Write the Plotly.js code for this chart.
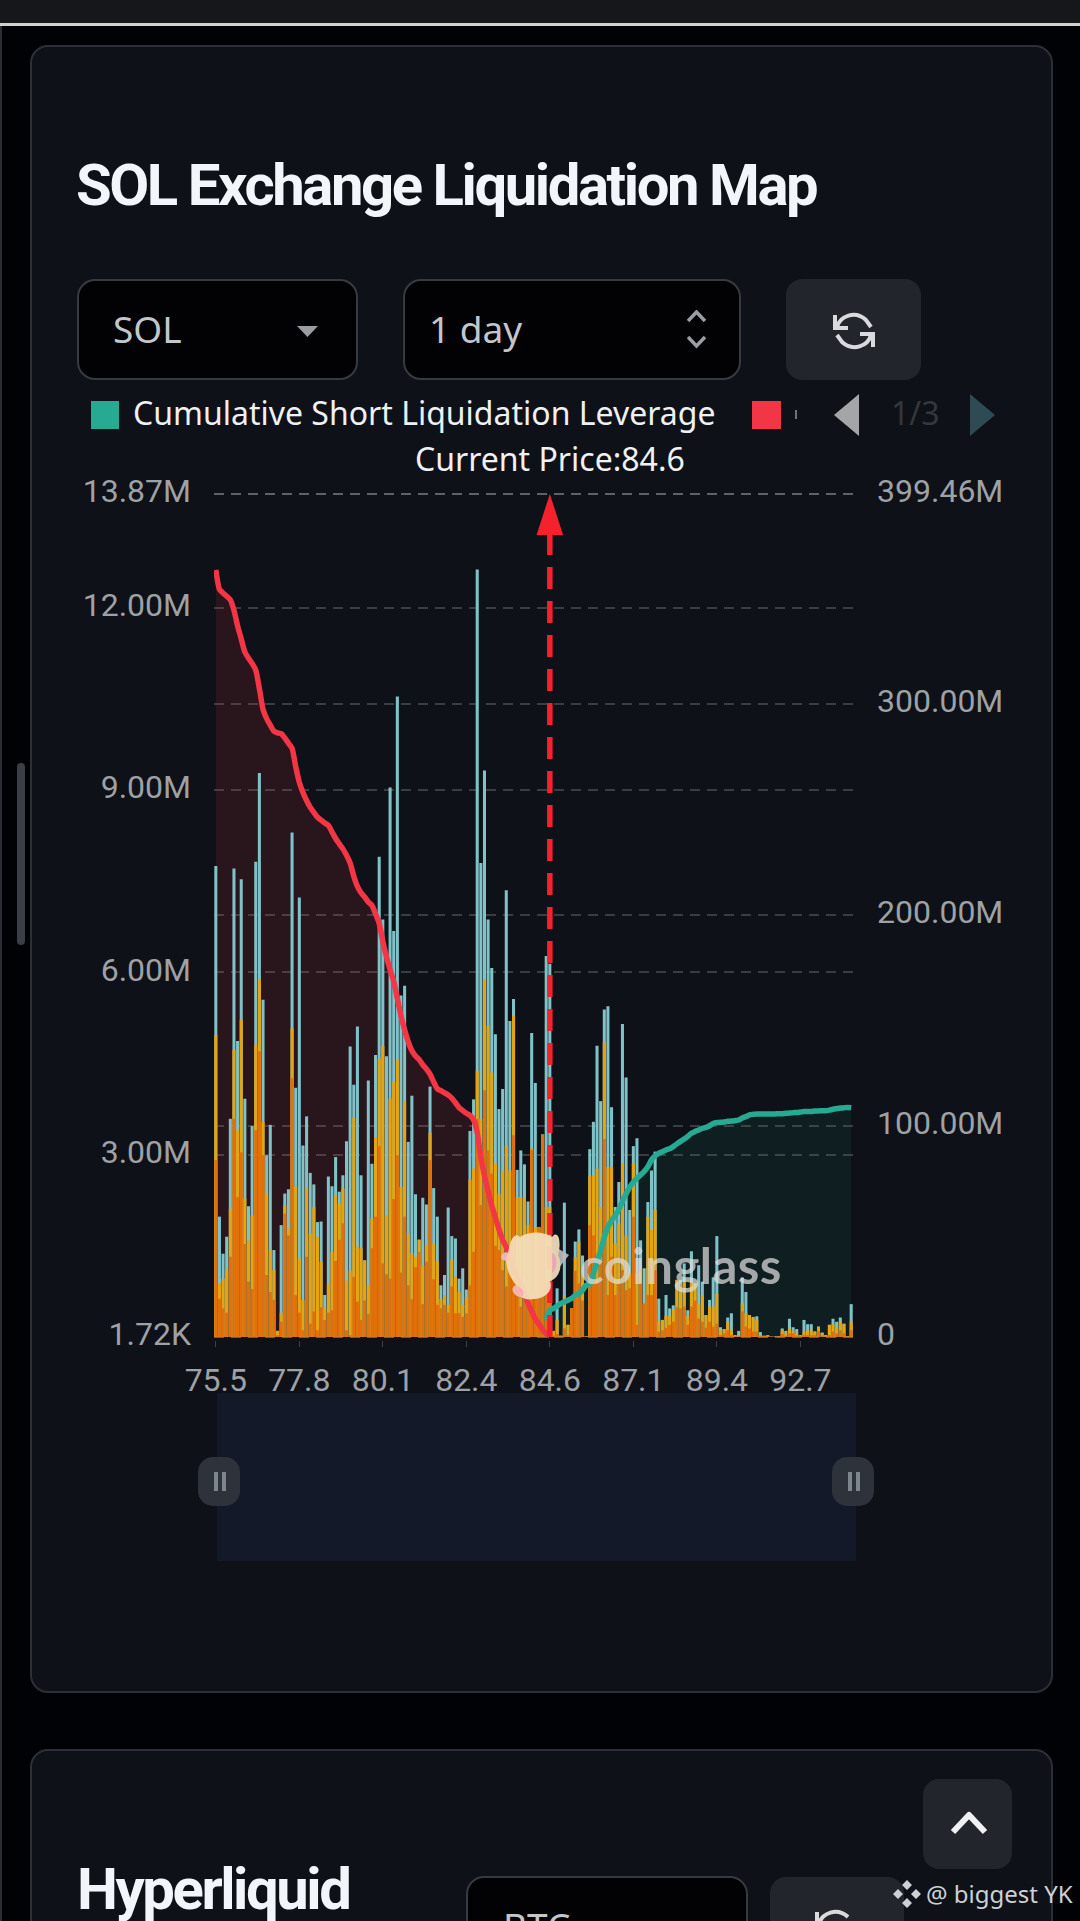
<!DOCTYPE html>
<html>
<head>
<meta charset="utf-8">
<script src="https://cdn.plot.ly/plotly-3.0.1.min.js"></script>
<style>
  html, body { margin: 0; padding: 0; background: #010205; }
  #page { position: relative; width: 1080px; height: 1921px; overflow: hidden; font-family: "Noto Sans", sans-serif; }
  #page div, #page svg { position: absolute; }
  .panel { background: #0e1117; border: 2px solid #2b3038; border-radius: 18px; box-sizing: border-box; }
  .box { background: #020204; border: 2px solid #363a42; border-radius: 18px; box-sizing: border-box; }
  .btn { background: #22252b; border-radius: 16px; }
  .head { font-family: Roboto, sans-serif; font-weight: 700; font-size: 58px; letter-spacing: -2.43px; color: #f2f5fa; white-space: nowrap; line-height: 68px; }
  .label { color: #c3c7cc; font-size: 37px; line-height: 40px; white-space: nowrap; }
  .handle { background: #2e323a; border-radius: 15px; }
  .handle i { position: absolute; top: 15px; width: 3.5px; height: 19px; background: #7f858c; }
  #chart { left: 0; top: 0; width: 1080px; height: 1921px; }
</style>
</head>
<body>
<div id="page">
  <div style="left:0;top:0;width:1080px;height:23px;background:#16171b"></div>
  <div style="left:0;top:23px;width:1080px;height:3px;background:#cfcfd0"></div>
  <div style="left:0;top:26px;width:2px;height:1895px;background:#2a2d33"></div>
  <div style="left:17px;top:763px;width:8px;height:182px;background:#3a3f46;border-radius:4px"></div>

  <div class="panel" style="left:30px;top:45px;width:1023px;height:1648px"></div>
  <div class="panel" style="left:30px;top:1749px;width:1023px;height:220px"></div>

  <div class="head" style="left:76px;top:151px">SOL Exchange Liquidation Map</div>

  <div class="box" style="left:77px;top:279px;width:281px;height:101px"></div>
  <div class="label" style="left:113px;top:309px">SOL</div>
  <svg style="left:297px;top:326px" width="22" height="12"><path d="M0 0H21L10.5 11Z" fill="#9a9da2"/></svg>

  <div class="box" style="left:403px;top:279px;width:338px;height:101px"></div>
  <div class="label" style="left:429px;top:309px">1 day</div>
  <svg style="left:687px;top:310px" width="20" height="40"><path d="M1 11L9.5 2L18 11M1 27L9.5 36L18 27" fill="none" stroke="#9a9da2" stroke-width="3.5"/></svg>

  <div class="btn" style="left:786px;top:279px;width:135px;height:101px"></div>
  <svg style="left:830px;top:307px" width="48" height="48" fill="none" stroke="#d8dade" stroke-width="4">
    <path d="M7 20C10 9 25 3 36 13L41 20"/><path d="M5 8V21H18" /><path d="M41 28C38 39 23 45 12 35L7 28"/><path d="M43 40V27H30"/>
  </svg>

  <div style="left:91px;top:401px;width:28px;height:28px;background:#26ab92"></div>
  <div class="label" id="legendText" style="left:133px;top:391px;color:#eef0f3;font-size:32px;line-height:44px">Cumulative Short Liquidation Leverage</div>
  <div style="left:752px;top:401px;width:29px;height:28px;background:#f23645"></div>
  <div style="left:795px;top:410px;width:2px;height:9px;background:#6f7378"></div>
  <svg style="left:834px;top:394px" width="26" height="42"><path d="M25 0V42L0 21Z" fill="#a3a5a8"/></svg>
  <div class="label" style="left:891px;top:391px;color:#34373c;font-size:32px;line-height:44px">1/3</div>
  <svg style="left:970px;top:394px" width="26" height="42"><path d="M0 0V42L25 21Z" fill="#2e4a53"/></svg>

  <div id="chart"></div>

  <svg style="left:498px;top:1225px;opacity:0.92" width="72" height="82">
    <path d="M8 27C1 29 2 36 9 36L14 30Z" fill="#f6b9bd"/>
    <path d="M54 20L71 30L60 44Z" fill="#b9bcbf"/>
    <path d="M10 28C12 16 16 6 22 12C30 6 46 6 54 12C60 4 64 16 60 30C66 42 60 54 52 56C56 66 46 74 36 74C28 76 16 72 18 60C10 50 6 38 10 28Z" fill="#f6dfbd"/>
    <path d="M18 60C12 62 14 70 22 72C26 72 26 68 24 64ZM54 28C60 30 60 44 54 48Z" fill="#f6b9bd"/>
  </svg>
  <div style="left:580px;top:1236px;font-family:Lato,sans-serif;font-weight:700;font-size:49px;line-height:58px;color:rgba(222,222,222,0.72);letter-spacing:0.5px">coinglass</div>

  <div style="left:217px;top:1393px;width:639px;height:168px;background:#131929"></div>
  <div class="handle" style="left:198px;top:1457px;width:42px;height:49px"><i style="left:16px"></i><i style="left:24px"></i></div>
  <div class="handle" style="left:832px;top:1457px;width:42px;height:49px"><i style="left:16px"></i><i style="left:24px"></i></div>

  <div class="head" style="left:77px;top:1855px">Hyperliquid</div>
  <div class="box" style="left:466px;top:1876px;width:282px;height:100px"></div>
  <div class="label" style="left:503px;top:1906px">BTC</div>
  <div class="btn" style="left:770px;top:1877px;width:134px;height:100px"></div>
  <svg style="left:812px;top:1904px" width="48" height="20" fill="none" stroke="#d8dade" stroke-width="4"><path d="M7 20C10 9 25 3 36 13"/><path d="M5 8V21H18"/></svg>
  <div class="btn" style="left:923px;top:1779px;width:89px;height:90px"></div>
  <svg style="left:950px;top:1810px" width="38" height="26"><path d="M3 22L19 5L35 22" fill="none" stroke="#f0f1f3" stroke-width="6" stroke-linejoin="round"/></svg>

  <svg style="left:893px;top:1880px" width="28" height="28" fill="#cdd0d4">
    <path d="M14 0L19 5L14 10L9 5ZM5 9L10 14L5 19L0 14ZM23 9L28 14L23 19L18 14ZM14 18L19 23L14 28L9 23Z"/>
  </svg>
  <div style="left:926px;top:1876px;color:#cdd0d4;font-size:24px;line-height:36px;white-space:nowrap">@ biggest YK</div>
</div>

<script>
// prices on the axis, one label every 23 bars
var tickIndex = [0, 23, 46, 69, 92, 115, 138, 161];
var tickLabels = ["75.5", "77.8", "80.1", "82.4", "84.6", "87.1", "89.4", "92.7"];
var currentIndex = 92;
var currentPrice = "84.6";

// top of each coloured part of a bar, in millions (left axis)
var orangeTops = [
  2.91, .63, .47, .40, 1.32, 3.59, 2.30, 3.04, 1.53, .91,
  .79, 3.40, 4.70, 2.99, 1.02, .74, .61, .03, .25, 2.03,
  1.67, 4.26, .69, .40, .11, 1.32, .22, .42, .11, .49,
  .28, .40, .44, 1.25, 1.60, 1.87, .11, .03, .99, .58,
  .28, .60, .38, 1.46, 1.98, 3.14, 1.21, 1.03, .96, 2.27,
  2.99, 1.06, 1.98, .85, .62, 1.15, 1.40, .54, 1.24, 2.91,
  .95, .53, .47, .53, .40, .83, .39, .39, .33, .39,
  .85, 1.40, 3.59, 2.17, 4.06, 3.07, 2.69, 1.50, 1.43, 1.10,
  .83, 1.32, 3.32, .83, .50, .61, .72, 3.08, .72, 1.81,
  3.33, .83, .61, .02, .05, .01, .14, .03, .47, 1.09,
  .88, .60, .01, 1.84, 1.67, .88, 1.26, 3.26, .69, 1.32,
  .69, .88, 1.10, .77, .80, 1.98, .20, .88, .55, .69,
  .69, 1.10, .09, .11, .15, .20, .25, .49, .47, .50,
  .20, .50, .60, .30, .25, .15, .25, .17, .22, .03,
  .06, .11, .03, .01, .01, .42, .17, .14, .09, .09,
  .01, .01, .01, .005, .005, .01, .05, .02, .06, .06,
  .02, .02, .03, .03, .03, .03, .10, .02, .01, .03,
  .09, .06, .11, .06, .01, .11
];
var yellowTops = [
  4.97, .88, .96, 1.10, 2.11, 4.72, 3.40, 5.22, 2.28, 1.59,
  2.00, 4.81, 5.89, 3.54, 2.36, 1.44, 1.10, .10, .40, 2.17,
  1.78, 5.08, 2.48, 1.29, .61, 2.47, 1.70, 2.14, 1.65, 1.24,
  .47, .88, 1.40, 2.32, 2.19, 2.44, .93, 1.09, 3.61, 1.49,
  1.46, 1.26, .85, 1.95, 3.29, 4.58, 4.79, 2.00, 3.92, 4.20,
  4.56, 2.47, 3.88, 1.70, 1.38, 1.32, 1.60, 1.17, 1.51, 3.36,
  1.53, 1.25, .62, .69, .53, 1.28, .99, .74, .53, .66,
  2.59, 2.77, 4.38, 3.59, 5.89, 5.12, 4.35, 2.85, 2.36, 2.74,
  3.15, 2.74, 5.28, 2.30, 2.30, 2.30, 1.84, 3.10, 1.81, 1.81,
  3.33, 2.14, 2.14, .10, .28, .02, .69, .20, .47, 1.31,
  1.57, 1.00, .01, 2.66, 2.66, 2.77, 2.14, 4.85, 2.80, 2.80,
  1.54, 1.87, 2.86, 1.67, 1.05, 2.86, 1.05, 1.13, .55, 1.98,
  1.76, 2.09, .25, .28, .35, .35, .45, .94, .85, .90,
  .35, .90, .88, .55, .69, .36, .50, .50, .71, .11,
  .13, .25, .11, .03, .03, .56, .39, .36, .31, .28,
  .03, .02, .02, .005, .005, .01, .11, .07, .14, .10,
  .05, .03, .09, .11, .11, .09, .17, .07, .03, .20,
  .21, .16, .25, .21, .01, .26
];
var tealTops = [
  7.75, 1.98, 1.37, 1.65, 3.59, 7.71, 4.87, 7.53, 3.92, 2.15,
  3.47, 7.82, 9.28, 5.55, 2.99, 3.49, 1.43, .10, 1.84, 2.36,
  2.43, 8.30, 4.10, 7.23, 3.15, 3.63, 2.70, 2.51, 1.89, 1.90,
  .69, 2.64, 2.48, 2.96, 2.39, 2.66, 3.22, 4.78, 4.15, 5.11,
  2.66, 1.26, 4.22, 2.85, 4.64, 7.90, 6.87, 4.62, 9.04, 6.68,
  10.54, 5.62, 5.78, 3.21, 3.97, 2.35, 1.60, 2.29, 2.18, 4.12,
  2.45, 1.98, .85, 1.02, 2.13, 1.66, 1.62, .96, 1.13, .78,
  3.39, 3.91, 12.63, 7.80, 9.32, 6.87, 6.07, 4.98, 3.75, 4.08,
  7.35, 5.20, 5.56, 2.75, 3.07, 2.84, 2.23, 5.00, 4.18, 1.81,
  3.33, 6.27, 6.14, .10, .80, .02, 2.21, .20, .47, 1.57,
  1.77, 1.34, .01, 3.09, 3.54, 4.79, 3.88, 5.39, 5.44, 3.78,
  2.14, 2.55, 5.15, 4.27, 2.09, 3.14, 3.27, 1.59, 1.13, 2.22,
  2.74, 3.05, .63, .28, .69, .47, .52, .94, .94, 1.21,
  .44, 1.41, .88, 1.18, .91, .36, .61, .98, 1.66, .16,
  .13, .32, .39, .03, .10, .98, .74, .36, .33, .34,
  .08, .02, .03, .005, .005, .01, .14, .10, .30, .16,
  .13, .03, .28, .21, .21, .09, .17, .07, .03, .20,
  .30, .25, .32, .22, .01, .54
];

// cumulative lines, in millions (right axis). Long side ends at the current price, short side starts there
var longLine = [
  363.5, 354.3, 352.5, 351, 349.3, 344.4, 337, 330.8, 324.6, 321.7,
  319.2, 316, 307.3, 297.5, 293, 290, 287.1, 286.3, 285.9, 283.9,
  281.4, 279, 270.3, 262.9, 258, 254.2, 251, 248.6, 246.3, 244.9,
  243.6, 242.4, 239.4, 236.2, 233.7, 231.3, 228.3, 224.6, 218.4, 213.5,
  210.5, 208.5, 206.1, 204.5, 200.5, 196, 187.5, 180.1, 174, 168.5,
  160.4, 152.2, 145.6, 139.9, 135.7, 133.2, 131.5, 129, 127, 124.6,
  120.9, 117.6, 116.7, 115.7, 114.7, 113.2, 111, 108.7, 107.3, 106,
  105, 102.8, 96.9, 85, 76.4, 69, 62.3, 56.6, 51, 46,
  42.6, 37.6, 32.7, 28.2, 24.5, 20.3, 15.9, 12.2, 8.5, 6,
  3.5, 1.5, 0.5
];
var shortStart = 91;
var shortLine = [
  7.9, 12.7, 13.5, 14.6, 15.8, 16.6, 17.4, 18.2, 19.8, 20.6,
  22.1, 24.5, 25, 30, 35.5, 41, 47.3, 52.1, 55.2, 57.6,
  60.3, 64.4, 67.8, 71, 73.3, 75.2, 76.8, 78.5, 80.7, 83.9,
  85.9, 87, 87.8, 88.6, 89.2, 90.2, 91.5, 92.7, 93.8, 95.1,
  96.5, 97.4, 98.1, 98.9, 99.3, 100.1, 101.2, 101.6, 101.7, 101.9,
  102.2, 102.3, 102.5, 102.8, 103.8, 104.4, 105.2, 105.5, 105.7, 105.7,
  105.7, 105.7, 105.7, 105.7, 105.8, 105.8, 106, 106.1, 106.3, 106.4,
  106.6, 106.8, 106.9, 106.9, 107.1, 107.1, 107.2, 107.2, 107.5, 107.9,
  108.2, 108.5, 108.6, 108.8, 108.6
];

var leftMax = 13.87;
var rightMax = 399.46;
var leftTicks = [0.00172, 3, 6, 9, 12, 13.87];
var leftLabels = ["1.72K", "3.00M", "6.00M", "9.00M", "12.00M", "13.87M"];
var rightTicks = [0, 100, 200, 300, 399.46];
var rightLabels = ["0", "100.00M", "200.00M", "300.00M", "399.46M"];

// a few pixels of room past both ends, otherwise plotly drops the grid lines sitting on the edge
var leftRange = [-0.05, leftMax + 0.05];
var rightRange = [-0.05 * rightMax / leftMax, rightMax + 0.05 * rightMax / leftMax];

var barX = orangeTops.map(function (v, i) { return i; });
var longX = longLine.map(function (v, i) { return i; });
var shortX = shortLine.map(function (v, i) { return shortStart + i; });

function barTrace(values, color) {
  return { type: "bar", x: barX, y: values, yaxis: "y2", marker: { color: color, line: { width: 0 } }, hoverinfo: "skip" };
}

function lineTrace(x, y, color) {
  return {
    type: "scatter", mode: "lines", x: x, y: y, yaxis: "y3",
    line: { color: color, width: 5.5, shape: "spline", smoothing: 0.6 }, hoverinfo: "skip"
  };
}

function areaTrace(x, y, color) {
  return { type: "scatter", mode: "none", x: x, y: y, yaxis: "y", fill: "tozeroy", fillcolor: color, hoverinfo: "skip" };
}

var data = [
  areaTrace(longX, longLine, "rgba(242,54,69,0.12)"),
  areaTrace(shortX, shortLine, "rgba(38,171,146,0.09)"),
  barTrace(tealTops, "#7fc3c9"),
  barTrace(yellowTops, "#e6a40e"),
  barTrace(orangeTops, "#e2700a"),
  lineTrace(longX, longLine, "#f23645"),
  lineTrace(shortX, shortLine, "#26ab92"),
  {
    type: "scatter", mode: "lines", x: [currentIndex, currentIndex], y: [0, rightMax - 12], yaxis: "y3",
    line: { color: "#f5222d", width: 5.5, dash: "22px,12px" }, hoverinfo: "skip"
  },
  {
    type: "scatter", mode: "markers", x: [currentIndex], y: [rightMax], yaxis: "y3",
    marker: { symbol: "arrow", size: 43, color: "#f5222d", line: { width: 0 } }, cliponaxis: false, hoverinfo: "skip"
  }
];

var tickFont = { family: "Roboto, sans-serif", size: 32, color: "#9ea1a6" };
var gridColor = "rgba(255,255,255,0.19)";

var layout = {
  width: 1080,
  height: 1921,
  margin: { l: 213.9, r: 227.2, t: 490.5, b: 581, pad: 0 },
  paper_bgcolor: "rgba(0,0,0,0)",
  plot_bgcolor: "rgba(0,0,0,0)",
  showlegend: false,
  barmode: "overlay",
  bargap: 0.16,
  xaxis: {
    range: [-0.5, 175.5], tickmode: "array", tickvals: tickIndex, ticktext: tickLabels,
    showgrid: false, zeroline: false, showline: false, ticks: "outside", ticklen: 6, tickwidth: 1,
    tickcolor: "rgba(255,255,255,0.2)", tickfont: tickFont, ticklabelstandoff: 6
  },
  yaxis: {
    side: "right", range: rightRange, tickmode: "array", tickvals: rightTicks, ticktext: rightLabels,
    showgrid: true, griddash: "10px,7px", gridcolor: gridColor, gridwidth: 2, zeroline: false, showline: false,
    tickfont: tickFont, ticks: "", ticklabelstandoff: 23, ticklabelshift: -3
  },
  yaxis2: {
    side: "left", overlaying: "y", range: leftRange, tickmode: "array", tickvals: leftTicks, ticktext: leftLabels,
    showgrid: true, griddash: "10px,7px", gridcolor: gridColor, gridwidth: 2, zeroline: false, showline: false,
    tickfont: tickFont, ticks: "", ticklabelstandoff: 22, ticklabelshift: -3
  },
  yaxis3: { overlaying: "y", range: rightRange, visible: false },
  annotations: [{
    xref: "x", yref: "paper", x: currentIndex, y: 1, yshift: 56, showarrow: false,
    text: "Current Price:" + currentPrice,
    font: { family: "Noto Sans, sans-serif", size: 32, color: "#f0f1f3" }
  }]
};

Plotly.newPlot("chart", data, layout, { displayModeBar: false, staticPlot: true });
</script>
</body>
</html>
